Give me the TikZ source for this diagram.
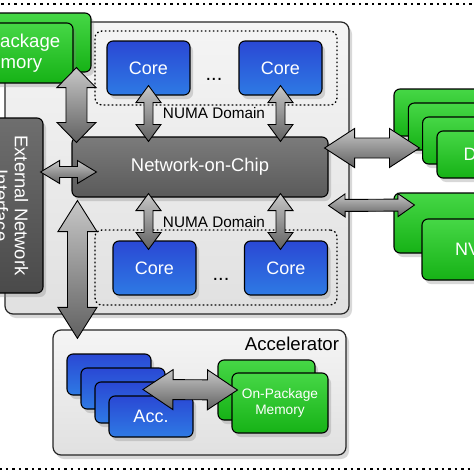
\documentclass[tikz,border=0pt]{standalone}
\usepackage{fontspec}
\setmainfont{Liberation Sans}
\usetikzlibrary{calc, positioning, shadows}

\definecolor{chipgray}{RGB}{236,236,236}
\definecolor{nocgray}{RGB}{90,90,90}
\definecolor{extgray}{RGB}{74,74,74}
\definecolor{memgreenA}{RGB}{70,215,70}
\definecolor{memgreenB}{RGB}{22,178,22}
\definecolor{coreblueA}{RGB}{42,72,212}
\definecolor{coreblueB}{RGB}{46,122,228}

% fat double arrow: from, to, shaft half width, head half width, head length
\newcommand{\fatarrow}[5]{%
  \draw[fatarr] let \p1=($(#2)-(#1)$), \n1={atan2(\y1,\x1)} in
    (#1) -- ($(#1)+(\n1:#5)+(\n1+90:#4)$) -- ($(#1)+(\n1:#5)+(\n1+90:#3)$)
    -- ($(#2)+(\n1+180:#5)+(\n1+90:#3)$) -- ($(#2)+(\n1+180:#5)+(\n1+90:#4)$)
    -- (#2) -- ($(#2)+(\n1+180:#5)+(\n1-90:#4)$) -- ($(#2)+(\n1+180:#5)+(\n1-90:#3)$)
    -- ($(#1)+(\n1:#5)+(\n1-90:#3)$) -- ($(#1)+(\n1:#5)+(\n1-90:#4)$) -- cycle;}

\begin{document}
\begin{tikzpicture}[x=1pt, y=-1pt,
    shad/.style={drop shadow={shadow xshift=3pt, shadow yshift=-4pt, opacity=0.3}},
    frame/.style={line width=1.2pt, dash pattern=on 2.5pt off 4pt},
    chipbox/.style={shad, rounded corners=8pt, draw=black!85, line width=1.2pt,
        top color=white!96!black, bottom color=black!12, inner sep=0pt},
    numa/.style={rounded corners=7pt, draw, line width=1.4pt,
        dash pattern=on 0.8pt off 3.2pt, line cap=round, inner sep=0pt},
    core/.style={shad, rounded corners=6pt, draw=black, line width=1.1pt,
        top color=coreblueA, bottom color=coreblueB, text=white, inner sep=0pt,
        font=\fontsize{18}{20}\selectfont, minimum width=83pt, minimum height=54pt},
    accbox/.style={core, minimum width=84pt, minimum height=41pt},
    mem/.style={shad, rounded corners=6pt, draw=black, line width=1.1pt,
        top color=memgreenA, bottom color=memgreenB, text=white, inner sep=0pt,
        align=center, font=\fontsize{18}{20}\selectfont},
    dark/.style={shad, rounded corners=6pt, draw=black, line width=1.1pt,
        top color=#1!80!white, bottom color=#1, text=white, inner sep=0pt,
        align=center, font=\fontsize{18.4}{20}\selectfont},
    lbl/.style={font=\fontsize{15.3}{17}\selectfont, inner sep=0pt},
    fatarr/.style={draw=black, line width=0.9pt, top color=black!22, bottom color=black!62}]

    % page, frame
    \fill[white] (0,0) rectangle (474,474);
    \useasboundingbox (0,0) rectangle (474,474);
    \clip (0,0) rectangle (474,474);
    \draw[frame] (-10,4) rectangle (484,469);

    % chip with NUMA domains
    \node[chipbox, minimum width=344pt, minimum height=292pt] (chip) at (177,168) {};
    \node[numa, minimum width=242pt, minimum height=74pt] (numaT) at (216,68) {};
    \node[numa, minimum width=242pt, minimum height=75pt] (numaB) at (216,267.5) {};

    % on-package memory of the chip
    \node[mem, minimum width=129pt, minimum height=59pt] (memB) at (26.5,42.5) {};
    \node[mem, minimum width=129pt, minimum height=60pt, font=\fontsize{18.6}{21}\selectfont]
        (mem) at (8.5,53) {On-Package\\Memory};

    % cores
    \node[core] (core1) at (148.5,68) {Core};
    \node[core] (core2) at (280.5,68) {Core};
    \node[core] (core3) at (154.5,268) {Core};
    \node[core] (core4) at (286,268) {Core};
    \node[anchor=base, font=\fontsize{20}{20}\selectfont, inner sep=0pt] (dotsT) at (214,80) {...};
    \node[anchor=base, font=\fontsize{20}{20}\selectfont, inner sep=0pt] (dotsB) at (221,280) {...};
    \node[lbl] (numaTl) at (214,113) {NUMA Domain};
    \node[lbl] (numaBl) at (214,222) {NUMA Domain};

    % network
    \node[dark=extgray, rotate=-90, minimum width=175pt, minimum height=63pt] (ext) at (11.5,205.5)
        {External Network\\Interface};
    \node[dark=nocgray, minimum width=256pt, minimum height=60pt] (noc) at (200,167) {Network-on-Chip};

    % accelerator
    \node[chipbox, minimum width=293pt, minimum height=125pt] (accel) at (199.5,392.5) {};
    \node[font=\fontsize{18.6}{20}\selectfont, inner sep=0pt] (accl) at (292,344) {Accelerator};
    \foreach \k in {0,1,2}
        \node[accbox] (acc\k) at ({109+14*\k},{374.5+14*\k}) {};
    \node[accbox] (acc3) at (151,416.5) {Acc.};
    \node[mem, minimum width=97pt, minimum height=60pt] (amemB) at (266.5,390) {};
    \node[mem, minimum width=96pt, minimum height=60pt, font=\fontsize{13.7}{15.5}\selectfont]
        (amem) at (280,403) {On-Package\\Memory};

    % off-chip memories
    \foreach \k in {0,1,2}
        \node[mem, minimum width=106pt, minimum height=47pt] (dram\k) at ({447+14.3*\k},{112.5+14*\k}) {};
    \node[mem, minimum width=106pt, minimum height=47pt] (dram3) at (490,154.5) {DRAM};
    \node[mem, minimum width=106pt, minimum height=60pt] (nvmB) at (447,223) {};
    \node[mem, minimum width=106pt, minimum height=61pt] (nvm) at (475,249.5) {\raisebox{-8pt}{NVM}};

    % links
    \fatarrow{$(core1.south)+(0,-10)$}{$(core1.south |- noc.north)+(0,5)$}{4.5pt}{12.5pt}{17pt}
    \fatarrow{$(core2.south)+(0,-10)$}{$(core2.south |- noc.north)+(0,5)$}{4.5pt}{12.5pt}{17pt}
    \fatarrow{$(core1.south |- noc.south)+(0,-4)$}{$(core1.south |- core3.north)+(0,9)$}{4.5pt}{12.5pt}{17pt}
    \fatarrow{$(core2.south |- noc.south)+(0,-4)$}{$(core2.south |- core4.north)+(0,9)$}{4.5pt}{12.5pt}{17pt}
    \fatarrow{$(noc.north west |- mem.south)+(5,-16)$}{$(noc.north west)+(5,6)$}{10.5pt}{19.5pt}{20pt}
    \fatarrow{$(ext.north |- noc.west)+(-3,5)$}{$(noc.west)+(25,5)$}{5.5pt}{11.5pt}{19pt}
    \fatarrow{$(noc.south west)+(6,3)$}{$(noc.south west |- accel.north)+(6,9)$}{10pt}{19.5pt}{31pt}
    \fatarrow{$(noc.east)+(-4,-19)$}{$(dram0.west)+(26,35.5)$}{10pt}{19.5pt}{30pt}
    \fatarrow{$(noc.south east)+(0,8)$}{$(nvmB.west)+(21,-18)$}{6pt}{11.5pt}{16.5pt}
    \fatarrow{$(acc3.north)+(-8,-6)$}{$(amem.west)+(6,-13)$}{10pt}{20pt}{30pt}
\end{tikzpicture}
\end{document}
